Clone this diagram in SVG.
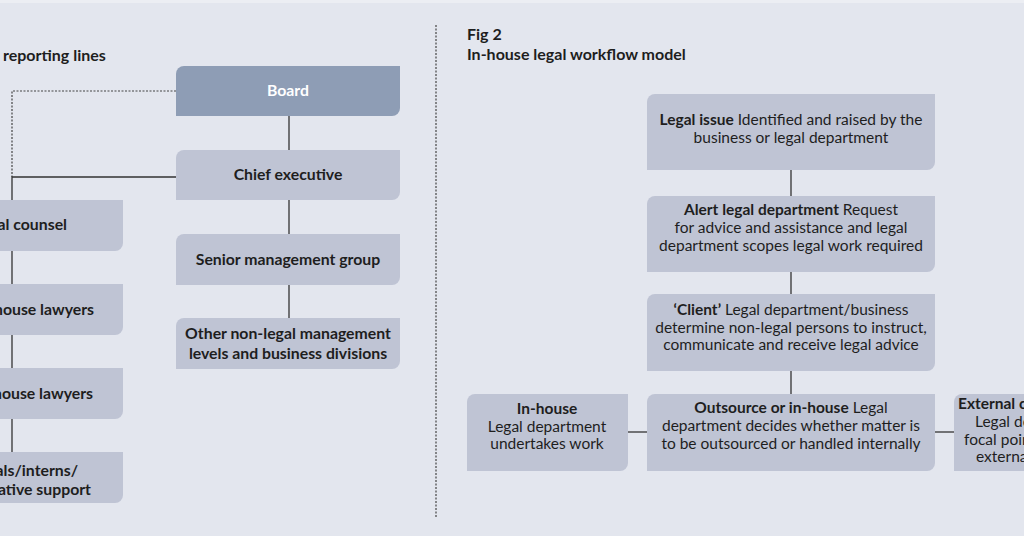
<svg xmlns="http://www.w3.org/2000/svg" width="1024" height="536" viewBox="0 0 1024 536">
<defs>
<style>
.bg{fill:#e3e6ee}
.box{fill:#bfc4d4}
.board{fill:#8e9db5}
.t{font-family:Lato,"Liberation Sans",sans-serif;font-size:15.5px;fill:#1e1e1e;text-anchor:middle}
.l{font-size:15.8px}
.b{font-weight:bold}
.w{fill:#ffffff}
.title{font-family:Lato,"Liberation Sans",sans-serif;font-size:16px;font-weight:bold;fill:#1e1e1e}
.c{stroke:#333;stroke-width:1.3;fill:none}
.d{stroke:#444;stroke-width:1.2;fill:none;stroke-dasharray:2 1.5}
</style>
</defs>
<rect class="bg" x="0" y="0" width="1024" height="536"/>
<rect x="0" y="0" width="1024" height="3" fill="#eceef3"/>

<text class="title" x="3" y="61">reporting lines</text>
<text class="title" x="467" y="40">Fig 2</text>
<text class="title" x="467" y="60">In-house legal workflow model</text>

<g id="connectors">
<line class="d" x1="436" y1="25" x2="436" y2="517"/>
<path class="d" d="M176,91 H12 V177"/>
<path class="c" d="M176,177 H12 V200"/>
<line class="c" x1="289" y1="116" x2="289" y2="150"/>
<line class="c" x1="289" y1="200" x2="289" y2="234"/>
<line class="c" x1="289" y1="285" x2="289" y2="318"/>
<line class="c" x1="12" y1="251" x2="12" y2="284"/>
<line class="c" x1="12" y1="335" x2="12" y2="368"/>
<line class="c" x1="12" y1="419" x2="12" y2="452"/>
<line class="c" x1="791" y1="170" x2="791" y2="196"/>
<line class="c" x1="791" y1="272" x2="791" y2="294"/>
<line class="c" x1="791" y1="371" x2="791" y2="394"/>
<line class="c" x1="628" y1="432" x2="647" y2="432"/>
<line class="c" x1="935" y1="432" x2="954" y2="432"/>
</g>

<g id="board">
<path class="board" d="M184,66 H400 V108 A8,8 0 0 1 392,116 H176 V74 A8,8 0 0 1 184,66 Z"/>
<text class="t l b w" x="288" y="96">Board</text>
</g>
<g id="chief-executive">
<path class="box" d="M184,150 H400 V192 A8,8 0 0 1 392,200 H176 V158 A8,8 0 0 1 184,150 Z"/>
<text class="t l b" x="288" y="180">Chief executive</text>
</g>
<g id="senior-management">
<path class="box" d="M184,234 H400 V277 A8,8 0 0 1 392,285 H176 V242 A8,8 0 0 1 184,234 Z"/>
<text class="t l b" x="288" y="265">Senior management group</text>
</g>
<g id="other-non-legal">
<path class="box" d="M184,318 H400 V361 A8,8 0 0 1 392,369 H176 V326 A8,8 0 0 1 184,318 Z"/>
<text class="t l b" x="288" y="339">Other non-legal management</text>
<text class="t l b" x="288" y="359">levels and business divisions</text>
</g>

<g id="general-counsel">
<path class="box" d="M-12,200 H123 V243 A8,8 0 0 1 115,251 H-20 V208 A8,8 0 0 1 -12,200 Z"/>
<text class="t l b" style="text-anchor:end" x="67" y="230">al counsel</text>
</g>
<g id="lawyers-1">
<path class="box" d="M-12,284 H123 V327 A8,8 0 0 1 115,335 H-20 V292 A8,8 0 0 1 -12,284 Z"/>
<text class="t l b" style="text-anchor:end" x="94" y="315">house lawyers</text>
</g>
<g id="lawyers-2">
<path class="box" d="M-12,368 H123 V411 A8,8 0 0 1 115,419 H-20 V376 A8,8 0 0 1 -12,368 Z"/>
<text class="t l b" style="text-anchor:end" x="93" y="399">house lawyers</text>
</g>
<g id="support">
<path class="box" d="M-12,452 H123 V495 A8,8 0 0 1 115,503 H-20 V460 A8,8 0 0 1 -12,452 Z"/>
<text class="t l b" style="text-anchor:end" x="78" y="476">als/interns/</text>
<text class="t l b" style="text-anchor:end" x="91" y="495">ative support</text>
</g>

<g id="legal-issue">
<path class="box" d="M655,94 H935 V162 A8,8 0 0 1 927,170 H647 V102 A8,8 0 0 1 655,94 Z"/>
<text class="t" x="791" y="125"><tspan class="b">Legal issue</tspan> Identified and raised by the</text>
<text class="t" x="791" y="143">business or legal department</text>
</g>
<g id="alert">
<path class="box" d="M655,196 H935 V264 A8,8 0 0 1 927,272 H647 V204 A8,8 0 0 1 655,196 Z"/>
<text class="t" x="791" y="215"><tspan class="b">Alert legal department</tspan> Request</text>
<text class="t" x="791" y="233">for advice and assistance and legal</text>
<text class="t" x="791" y="251">department scopes legal work required</text>
</g>
<g id="client">
<path class="box" d="M655,294 H935 V363 A8,8 0 0 1 927,371 H647 V302 A8,8 0 0 1 655,294 Z"/>
<text class="t" x="791" y="315"><tspan class="b">‘Client’</tspan> Legal department/business</text>
<text class="t" x="791" y="333">determine non-legal persons to instruct,</text>
<text class="t" x="791" y="350">communicate and receive legal advice</text>
</g>
<g id="outsource">
<path class="box" d="M655,394 H935 V463 A8,8 0 0 1 927,471 H647 V402 A8,8 0 0 1 655,394 Z"/>
<text class="t" x="791" y="413"><tspan class="b">Outsource or in-house</tspan> Legal</text>
<text class="t" x="791" y="431">department decides whether matter is</text>
<text class="t" x="791" y="449">to be outsourced or handled internally</text>
</g>
<g id="in-house">
<path class="box" d="M475,394 H628 V463 A8,8 0 0 1 620,471 H467 V402 A8,8 0 0 1 475,394 Z"/>
<text class="t b" x="547" y="414">In-house</text>
<text class="t" x="547" y="432">Legal department</text>
<text class="t" x="547" y="449">undertakes work</text>
</g>
<g id="external">
<path class="box" d="M962,394 H1040 V471 H954 V402 A8,8 0 0 1 962,394 Z"/>
<text class="t b" style="text-anchor:start" x="958" y="409">External c</text>
<text class="t" style="text-anchor:start" x="975" y="427">Legal de</text>
<text class="t" style="text-anchor:start" x="964" y="445">focal poin</text>
<text class="t" style="text-anchor:start" x="976" y="462">externa</text>
</g>
</svg>
